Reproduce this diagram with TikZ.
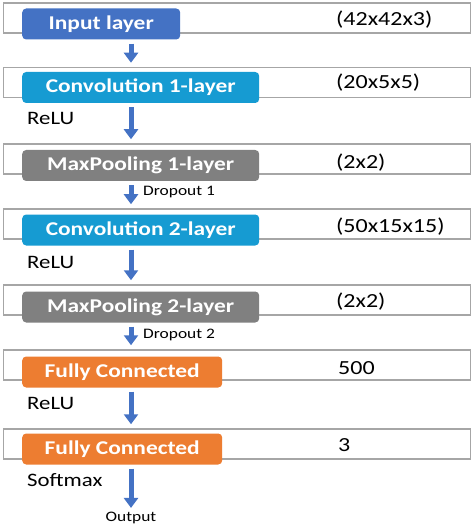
\documentclass[tikz,border=0pt]{standalone}
\usepackage{fontspec}
\setmainfont{Carlito}[FakeStretch=1.2]
\usetikzlibrary{arrows.meta}

\definecolor{inblue}{RGB}{68,114,196}
\definecolor{convblue}{RGB}{22,155,210}
\definecolor{poolgray}{RGB}{128,128,128}
\definecolor{fcorange}{RGB}{237,125,49}
\definecolor{rowgray}{RGB}{166,166,166}

\tikzset{
	rowbox/.style={rectangle,draw=rowgray,line width=1.5pt,fill=white,
		minimum width=467pt,minimum height=30pt,inner sep=0pt},
	layerbox/.style={rectangle,rounded corners=4pt,anchor=west,
		minimum height=31pt,inner sep=0pt,text=white,
		font=\fontsize{19.5pt}{20pt}\selectfont\bfseries},
	sizelabel/.style={anchor=west,inner sep=0pt,
		font=\fontsize{20pt}{22pt}\selectfont},
	actlabel/.style={anchor=west,inner sep=0pt,
		font=\fontsize{19pt}{21pt}\selectfont},
	smalllabel/.style={inner sep=0pt,
		font=\fontsize{14.5pt}{16pt}\selectfont},
	flow/.style={-{Triangle[width=14pt,length=10pt]},color=inblue,
		line width=5pt,shorten <=4pt,shorten >=4pt}
}

\begin{document}
\begin{tikzpicture}

	\useasboundingbox (0,0) rectangle (474pt,-529pt);
	\coordinate (ax) at (131pt,0);

	% rows
	\node[rowbox] (r1) at (237pt,-18pt) {};
	\node[rowbox] (r2) at (237pt,-82.5pt) {};
	\node[rowbox] (r3) at (237pt,-159pt) {};
	\node[rowbox] (r4) at (237pt,-224pt) {};
	\node[rowbox] (r5) at (237pt,-300pt) {};
	\node[rowbox] (r6) at (237pt,-365pt) {};
	\node[rowbox] (r7) at (237pt,-444pt) {};

	% layers
	\node[layerbox,fill=inblue,minimum width=158pt] (b1) at (22pt,-24pt) {Input layer};
	\node[layerbox,fill=convblue,minimum width=237pt] (b2) at (22pt,-87.5pt) {Convolution 1-layer};
	\node[layerbox,fill=poolgray,minimum width=237pt] (b3) at (22pt,-165.5pt) {MaxPooling 1-layer};
	\node[layerbox,fill=convblue,minimum width=237pt] (b4) at (22pt,-230pt) {Convolution 2-layer};
	\node[layerbox,fill=poolgray,minimum width=237pt] (b5) at (22pt,-307pt) {MaxPooling 2-layer};
	\node[layerbox,fill=fcorange,minimum width=200pt] (b6) at (22pt,-372pt) {Fully Connected};
	\node[layerbox,fill=fcorange,minimum width=200pt] (b7) at (22pt,-449pt) {Fully Connected};

	% sizes
	\node[sizelabel] (s1) at (336pt,-20pt) {(42x42x3)};
	\node[sizelabel] (s2) at (336pt,-83pt) {(20x5x5)};
	\node[sizelabel] (s3) at (336pt,-163pt) {(2x2)};
	\node[sizelabel] (s4) at (336pt,-227pt) {(50x15x15)};
	\node[sizelabel] (s5) at (336pt,-302pt) {(2x2)};
	\node[sizelabel] (s6) at (338pt,-368pt) {500};
	\node[sizelabel] (s7) at (338pt,-445pt) {3};

	% activations
	\node[actlabel] (a2) at (27pt,-118pt) {ReLU};
	\node[actlabel] (a4) at (27pt,-262pt) {ReLU};
	\node[actlabel] (a6) at (27pt,-403pt) {ReLU};
	\node[actlabel] (a7) at (27pt,-480pt) {Softmax};
	\node[smalllabel,anchor=west] (d1) at (143pt,-192pt) {Dropout 1};
	\node[smalllabel,anchor=west] (d2) at (143pt,-335pt) {Dropout 2};
	\node[smalllabel] (out) at (131pt,-518pt) {Output};

	\draw[flow] (b1.south -| ax) -- (r2.north -| ax);
	\draw[flow] (b2.south -| ax) -- (r3.north -| ax);
	\draw[flow] (b3.south -| ax) -- (r4.north -| ax);
	\draw[flow] (b4.south -| ax) -- (r5.north -| ax);
	\draw[flow] (b5.south -| ax) -- (r6.north -| ax);
	\draw[flow] (b6.south -| ax) -- (r7.north -| ax);
	\draw[flow] (b7.south -| ax) -- (out.north);

\end{tikzpicture}
\end{document}
